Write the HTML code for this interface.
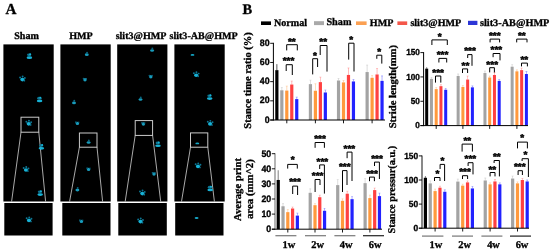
<!DOCTYPE html>
<html lang="en"><head><meta charset="utf-8"><title>Figure</title>
<style>
html,body{margin:0;padding:0;background:#fff;}
body{width:550px;height:250px;overflow:hidden;}
svg{display:block;}
text{text-rendering:geometricPrecision;}
.se{font-family:"Liberation Serif", "DejaVu Serif", serif;font-weight:bold;fill:#000;stroke:#000;stroke-width:0.3px;}
.sa{font-family:"Liberation Sans", "DejaVu Sans", sans-serif;font-weight:bold;fill:#000;}
</style></head><body>
<svg width="550" height="250" viewBox="0 0 550 250">
<defs><filter id="bl" x="-5%" y="-5%" width="110%" height="110%"><feGaussianBlur stdDeviation="0.55"/></filter></defs>
<rect x="0" y="0" width="550" height="250" fill="#fff"/>
<text class="se" x="5.40" y="13.60" font-size="15.2" text-anchor="start" >A</text>
<text class="se" x="26.50" y="39.10" font-size="10.1" text-anchor="middle" >Sham</text>
<text class="se" x="81.00" y="39.10" font-size="10.1" text-anchor="middle" >HMP</text>
<text class="se" x="141.10" y="39.00" font-size="10.1" text-anchor="middle" >slit3@HMP</text>
<text class="se" x="203.60" y="39.00" font-size="10.1" text-anchor="middle" >slit3-AB@HMP</text>
<rect x="3.40" y="44.40" width="50.30" height="157.10" fill="#000" />
<rect x="60.40" y="44.40" width="50.30" height="157.10" fill="#000" />
<rect x="117.20" y="44.40" width="50.20" height="157.10" fill="#000" />
<rect x="174.40" y="44.40" width="50.30" height="157.10" fill="#000" />
<rect x="4.30" y="203.00" width="48.30" height="32.50" fill="#000" />
<rect x="62.30" y="203.00" width="48.20" height="32.50" fill="#000" />
<rect x="118.30" y="203.00" width="48.50" height="32.50" fill="#000" />
<rect x="175.20" y="203.00" width="48.30" height="32.50" fill="#000" />
<rect x="21.0" y="117.2" width="17.80" height="15.00" fill="none" stroke="#d4d4d4" stroke-width="0.95"/>
<line x1="21.00" y1="132.20" x2="11.60" y2="201.50" stroke="#d4d4d4" stroke-width="0.8" />
<line x1="38.80" y1="132.20" x2="45.60" y2="201.50" stroke="#d4d4d4" stroke-width="0.8" />
<rect x="79.4" y="133.0" width="17.60" height="14.20" fill="none" stroke="#d4d4d4" stroke-width="0.95"/>
<line x1="79.40" y1="147.20" x2="69.60" y2="201.50" stroke="#d4d4d4" stroke-width="0.8" />
<line x1="97.00" y1="147.20" x2="102.60" y2="201.50" stroke="#d4d4d4" stroke-width="0.8" />
<rect x="135.2" y="120.6" width="17.40" height="14.80" fill="none" stroke="#d4d4d4" stroke-width="0.95"/>
<line x1="135.20" y1="135.40" x2="125.20" y2="201.50" stroke="#d4d4d4" stroke-width="0.8" />
<line x1="152.60" y1="135.40" x2="160.70" y2="201.50" stroke="#d4d4d4" stroke-width="0.8" />
<rect x="190.5" y="132.9" width="17.30" height="14.30" fill="none" stroke="#d4d4d4" stroke-width="0.95"/>
<line x1="190.50" y1="147.20" x2="181.50" y2="201.50" stroke="#d4d4d4" stroke-width="0.8" />
<line x1="207.80" y1="147.20" x2="214.40" y2="201.50" stroke="#d4d4d4" stroke-width="0.8" />
<g filter="url(#bl)">
<g transform="translate(29.4,56.3) scale(1.22)">
<ellipse cx="0" cy="1.1" rx="2.3" ry="1.1" fill="#17b2d6"/>
<ellipse cx="-0.2" cy="-1.2" rx="1.8" ry="1.1" fill="#0c7592"/>
<circle cx="0.6" cy="-1.6" r="0.8" fill="#17b2d6"/>
</g>
<g transform="translate(22.4,79.0) scale(1.22)">
<ellipse cx="0" cy="0.5" rx="1.7" ry="1.5" fill="#17b2d6"/>
<circle cx="-1.9" cy="-1.2" r="0.8" fill="#0c7592"/>
<circle cx="0.2" cy="-2.0" r="0.8" fill="#0c7592"/>
<circle cx="2.0" cy="-0.8" r="0.8" fill="#0c7592"/>
<circle cx="1.6" cy="1.4" r="0.7" fill="#0c7592"/>
</g>
<g transform="translate(39.6,99.6) scale(1.22)">
<ellipse cx="0" cy="1.1" rx="2.3" ry="1.1" fill="#17b2d6"/>
<ellipse cx="-0.2" cy="-1.2" rx="1.8" ry="1.1" fill="#0c7592"/>
<circle cx="0.6" cy="-1.6" r="0.8" fill="#17b2d6"/>
</g>
<g transform="translate(28.7,123.2) scale(1.22)">
<ellipse cx="0" cy="0.5" rx="1.7" ry="1.5" fill="#17b2d6"/>
<circle cx="-1.9" cy="-1.2" r="0.8" fill="#0c7592"/>
<circle cx="0.2" cy="-2.0" r="0.8" fill="#0c7592"/>
<circle cx="2.0" cy="-0.8" r="0.8" fill="#0c7592"/>
<circle cx="1.6" cy="1.4" r="0.7" fill="#0c7592"/>
</g>
<g transform="translate(41.4,147.0) scale(1.22)">
<ellipse cx="0" cy="1.1" rx="2.3" ry="1.1" fill="#17b2d6"/>
<ellipse cx="-0.2" cy="-1.2" rx="1.8" ry="1.1" fill="#0c7592"/>
<circle cx="0.6" cy="-1.6" r="0.8" fill="#17b2d6"/>
</g>
<g transform="translate(26.0,169.4) scale(1.22)">
<ellipse cx="0" cy="0.5" rx="1.7" ry="1.5" fill="#17b2d6"/>
<circle cx="-1.9" cy="-1.2" r="0.8" fill="#0c7592"/>
<circle cx="0.2" cy="-2.0" r="0.8" fill="#0c7592"/>
<circle cx="2.0" cy="-0.8" r="0.8" fill="#0c7592"/>
<circle cx="1.6" cy="1.4" r="0.7" fill="#0c7592"/>
</g>
<g transform="translate(40.2,193.2) scale(1.22)">
<ellipse cx="0" cy="1.1" rx="2.3" ry="1.1" fill="#17b2d6"/>
<ellipse cx="-0.2" cy="-1.2" rx="1.8" ry="1.1" fill="#0c7592"/>
<circle cx="0.6" cy="-1.6" r="0.8" fill="#17b2d6"/>
</g>
<g transform="translate(29.0,219.8) scale(1.22)">
<ellipse cx="0" cy="0.5" rx="1.7" ry="1.5" fill="#17b2d6"/>
<circle cx="-1.9" cy="-1.2" r="0.8" fill="#0c7592"/>
<circle cx="0.2" cy="-2.0" r="0.8" fill="#0c7592"/>
<circle cx="2.0" cy="-0.8" r="0.8" fill="#0c7592"/>
<circle cx="1.6" cy="1.4" r="0.7" fill="#0c7592"/>
</g>
<g transform="translate(86.8,54.2) scale(1.22)">
<ellipse cx="0" cy="0.4" rx="1.6" ry="1.1" fill="#199cbc"/>
<circle cx="0.2" cy="-1.3" r="0.8" fill="#0a627c"/>
</g>
<g transform="translate(85.0,79.8) scale(1.22)">
<circle cx="0" cy="0" r="1.4" fill="#199cbc"/>
<circle cx="-1.2" cy="-1.0" r="0.7" fill="#0a627c"/>
<circle cx="1.1" cy="-0.9" r="0.6" fill="#0a627c"/>
</g>
<g transform="translate(74.0,102.4) scale(1.22)">
<ellipse cx="0" cy="0.4" rx="1.6" ry="1.1" fill="#199cbc"/>
<circle cx="0.2" cy="-1.3" r="0.8" fill="#0a627c"/>
</g>
<g transform="translate(77.4,123.4) scale(1.22)">
<circle cx="0" cy="0" r="1.4" fill="#199cbc"/>
<circle cx="-1.2" cy="-1.0" r="0.7" fill="#0a627c"/>
<circle cx="1.1" cy="-0.9" r="0.6" fill="#0a627c"/>
</g>
<g transform="translate(88.6,142.0) scale(1.22)">
<ellipse cx="0" cy="0.4" rx="1.6" ry="1.1" fill="#199cbc"/>
<circle cx="0.2" cy="-1.3" r="0.8" fill="#0a627c"/>
</g>
<g transform="translate(88.6,169.4) scale(1.22)">
<circle cx="0" cy="0" r="1.4" fill="#199cbc"/>
<circle cx="-1.2" cy="-1.0" r="0.7" fill="#0a627c"/>
<circle cx="1.1" cy="-0.9" r="0.6" fill="#0a627c"/>
</g>
<g transform="translate(77.4,189.6) scale(1.22)">
<ellipse cx="0" cy="0.4" rx="1.6" ry="1.1" fill="#199cbc"/>
<circle cx="0.2" cy="-1.3" r="0.8" fill="#0a627c"/>
</g>
<g transform="translate(81.4,221.4) scale(1.22)">
<circle cx="0" cy="0" r="1.4" fill="#199cbc"/>
<circle cx="-1.2" cy="-1.0" r="0.7" fill="#0a627c"/>
<circle cx="1.1" cy="-0.9" r="0.6" fill="#0a627c"/>
</g>
<g transform="translate(152.1,50.0) scale(1.22)">
<ellipse cx="0" cy="0.4" rx="1.6" ry="1.1" fill="#199cbc"/>
<circle cx="0.2" cy="-1.3" r="0.8" fill="#0a627c"/>
</g>
<g transform="translate(150.8,76.7) scale(1.22)">
<circle cx="0" cy="0" r="1.4" fill="#199cbc"/>
<circle cx="-1.2" cy="-1.0" r="0.7" fill="#0a627c"/>
<circle cx="1.1" cy="-0.9" r="0.6" fill="#0a627c"/>
</g>
<g transform="translate(140.5,99.0) scale(1.22)">
<ellipse cx="0" cy="0.4" rx="1.6" ry="1.1" fill="#199cbc"/>
<circle cx="0.2" cy="-1.3" r="0.8" fill="#0a627c"/>
</g>
<g transform="translate(143.4,124.0) scale(1.22)">
<circle cx="0" cy="0" r="1.4" fill="#199cbc"/>
<circle cx="-1.2" cy="-1.0" r="0.7" fill="#0a627c"/>
<circle cx="1.1" cy="-0.9" r="0.6" fill="#0a627c"/>
</g>
<g transform="translate(158.0,144.4) scale(1.22)">
<ellipse cx="0" cy="1.1" rx="2.3" ry="1.1" fill="#17b2d6"/>
<ellipse cx="-0.2" cy="-1.2" rx="1.8" ry="1.1" fill="#0c7592"/>
<circle cx="0.6" cy="-1.6" r="0.8" fill="#17b2d6"/>
</g>
<g transform="translate(154.0,174.0) scale(1.22)">
<circle cx="0" cy="0" r="1.4" fill="#199cbc"/>
<circle cx="-1.2" cy="-1.0" r="0.7" fill="#0a627c"/>
<circle cx="1.1" cy="-0.9" r="0.6" fill="#0a627c"/>
</g>
<g transform="translate(142.3,193.0) scale(1.22)">
<ellipse cx="0" cy="0.5" rx="1.7" ry="1.5" fill="#17b2d6"/>
<circle cx="-1.9" cy="-1.2" r="0.8" fill="#0c7592"/>
<circle cx="0.2" cy="-2.0" r="0.8" fill="#0c7592"/>
<circle cx="2.0" cy="-0.8" r="0.8" fill="#0c7592"/>
<circle cx="1.6" cy="1.4" r="0.7" fill="#0c7592"/>
</g>
<g transform="translate(140.5,221.0) scale(1.22)">
<ellipse cx="0" cy="0.5" rx="1.7" ry="1.5" fill="#17b2d6"/>
<circle cx="-1.9" cy="-1.2" r="0.8" fill="#0c7592"/>
<circle cx="0.2" cy="-2.0" r="0.8" fill="#0c7592"/>
<circle cx="2.0" cy="-0.8" r="0.8" fill="#0c7592"/>
<circle cx="1.6" cy="1.4" r="0.7" fill="#0c7592"/>
</g>
<g transform="translate(192.5,54.9) scale(1.22)">
<ellipse cx="0" cy="0" rx="1.6" ry="0.75" fill="#16a8c8"/>
</g>
<g transform="translate(196.2,74.6) scale(1.22)">
<ellipse cx="0" cy="0.5" rx="1.7" ry="1.5" fill="#17b2d6"/>
<circle cx="-1.9" cy="-1.2" r="0.8" fill="#0c7592"/>
<circle cx="0.2" cy="-2.0" r="0.8" fill="#0c7592"/>
<circle cx="2.0" cy="-0.8" r="0.8" fill="#0c7592"/>
<circle cx="1.6" cy="1.4" r="0.7" fill="#0c7592"/>
</g>
<g transform="translate(209.7,97.2) scale(1.22)">
<ellipse cx="0" cy="1.1" rx="2.3" ry="1.1" fill="#17b2d6"/>
<ellipse cx="-0.2" cy="-1.2" rx="1.8" ry="1.1" fill="#0c7592"/>
<circle cx="0.6" cy="-1.6" r="0.8" fill="#17b2d6"/>
</g>
<g transform="translate(210.1,123.3) scale(1.22)">
<ellipse cx="0" cy="0.5" rx="1.7" ry="1.5" fill="#17b2d6"/>
<circle cx="-1.9" cy="-1.2" r="0.8" fill="#0c7592"/>
<circle cx="0.2" cy="-2.0" r="0.8" fill="#0c7592"/>
<circle cx="2.0" cy="-0.8" r="0.8" fill="#0c7592"/>
<circle cx="1.6" cy="1.4" r="0.7" fill="#0c7592"/>
</g>
<g transform="translate(197.3,143.4) scale(1.22)">
<ellipse cx="0" cy="0" rx="1.6" ry="0.75" fill="#16a8c8"/>
</g>
<g transform="translate(198.0,165.8) scale(1.22)">
<ellipse cx="0" cy="0.5" rx="1.7" ry="1.5" fill="#17b2d6"/>
<circle cx="-1.9" cy="-1.2" r="0.8" fill="#0c7592"/>
<circle cx="0.2" cy="-2.0" r="0.8" fill="#0c7592"/>
<circle cx="2.0" cy="-0.8" r="0.8" fill="#0c7592"/>
<circle cx="1.6" cy="1.4" r="0.7" fill="#0c7592"/>
</g>
<g transform="translate(210.2,188.6) scale(1.22)">
<ellipse cx="0" cy="1.1" rx="2.3" ry="1.1" fill="#17b2d6"/>
<ellipse cx="-0.2" cy="-1.2" rx="1.8" ry="1.1" fill="#0c7592"/>
<circle cx="0.6" cy="-1.6" r="0.8" fill="#17b2d6"/>
</g>
<g transform="translate(196.6,218.0) scale(1.22)">
<ellipse cx="0" cy="0" rx="1.6" ry="0.75" fill="#16a8c8"/>
</g>
</g>
<text class="se" x="242.40" y="13.60" font-size="14.5" text-anchor="start" >B</text>
<rect x="261.00" y="21.40" width="10.00" height="3.60" fill="#000" />
<text class="se" x="274.00" y="26.00" font-size="10.1" text-anchor="start" >Normal</text>
<rect x="314.00" y="21.20" width="10.00" height="3.90" fill="#a9a9a9" />
<text class="se" x="326.40" y="25.10" font-size="10.25" text-anchor="start" >Sham</text>
<rect x="356.00" y="21.40" width="10.60" height="3.60" fill="#fba052" />
<text class="se" x="369.80" y="26.00" font-size="10.1" text-anchor="start" >HMP</text>
<rect x="397.40" y="21.40" width="9.80" height="3.60" fill="#f4574a" />
<text class="se" x="410.40" y="26.00" font-size="10.1" text-anchor="start" >slit3@HMP</text>
<rect x="468.00" y="20.80" width="9.40" height="4.20" fill="#2c35d6" />
<text class="se" x="480.00" y="26.00" font-size="10.25" text-anchor="start" >slit3-AB@HMP</text>
<line x1="276.86" y1="64.15" x2="276.86" y2="70.15" stroke="#444" stroke-width="0.9" />
<rect x="275.26" y="70.15" width="3.20" height="49.85" fill="#000" />
<line x1="281.83" y1="87.28" x2="281.83" y2="90.28" stroke="#a3a3a3" stroke-width="0.6" opacity="0.6"/>
<line x1="280.83" y1="87.28" x2="282.83" y2="87.28" stroke="#a3a3a3" stroke-width="0.5" opacity="0.55"/>
<rect x="280.23" y="90.28" width="3.20" height="29.72" fill="#a3a3a3" />
<line x1="286.80" y1="86.07" x2="286.80" y2="90.57" stroke="#ff993d" stroke-width="0.6" opacity="0.6"/>
<line x1="285.80" y1="86.07" x2="287.80" y2="86.07" stroke="#ff993d" stroke-width="0.5" opacity="0.55"/>
<rect x="285.20" y="90.57" width="3.20" height="29.43" fill="#ff993d" />
<line x1="291.77" y1="81.03" x2="291.77" y2="84.53" stroke="#ff4141" stroke-width="0.6" opacity="0.6"/>
<line x1="290.77" y1="81.03" x2="292.77" y2="81.03" stroke="#ff4141" stroke-width="0.5" opacity="0.55"/>
<rect x="290.17" y="84.53" width="3.20" height="35.47" fill="#ff4141" />
<line x1="296.74" y1="97.10" x2="296.74" y2="99.10" stroke="#2222ff" stroke-width="0.6" opacity="0.6"/>
<line x1="295.74" y1="97.10" x2="297.74" y2="97.10" stroke="#2222ff" stroke-width="0.5" opacity="0.55"/>
<rect x="295.14" y="99.10" width="3.20" height="20.90" fill="#2222ff" />
<line x1="310.43" y1="80.14" x2="310.43" y2="84.14" stroke="#a3a3a3" stroke-width="0.6" opacity="0.6"/>
<line x1="309.43" y1="80.14" x2="311.43" y2="80.14" stroke="#a3a3a3" stroke-width="0.5" opacity="0.55"/>
<rect x="308.83" y="84.14" width="3.20" height="35.86" fill="#a3a3a3" />
<line x1="315.40" y1="83.76" x2="315.40" y2="90.76" stroke="#ff993d" stroke-width="0.6" opacity="0.6"/>
<line x1="314.40" y1="83.76" x2="316.40" y2="83.76" stroke="#ff993d" stroke-width="0.5" opacity="0.55"/>
<rect x="313.80" y="90.76" width="3.20" height="29.24" fill="#ff993d" />
<line x1="320.37" y1="77.13" x2="320.37" y2="82.13" stroke="#ff4141" stroke-width="0.6" opacity="0.6"/>
<line x1="319.37" y1="77.13" x2="321.37" y2="77.13" stroke="#ff4141" stroke-width="0.5" opacity="0.55"/>
<rect x="318.77" y="82.13" width="3.20" height="37.87" fill="#ff4141" />
<line x1="325.34" y1="89.98" x2="325.34" y2="92.48" stroke="#2222ff" stroke-width="0.6" opacity="0.6"/>
<line x1="324.34" y1="89.98" x2="326.34" y2="89.98" stroke="#2222ff" stroke-width="0.5" opacity="0.55"/>
<rect x="323.74" y="92.48" width="3.20" height="27.52" fill="#2222ff" />
<line x1="338.53" y1="78.50" x2="338.53" y2="80.50" stroke="#a3a3a3" stroke-width="0.6" opacity="0.6"/>
<line x1="337.53" y1="78.50" x2="339.53" y2="78.50" stroke="#a3a3a3" stroke-width="0.5" opacity="0.55"/>
<rect x="336.93" y="80.50" width="3.20" height="39.50" fill="#a3a3a3" />
<line x1="343.50" y1="80.42" x2="343.50" y2="82.42" stroke="#ff993d" stroke-width="0.6" opacity="0.6"/>
<line x1="342.50" y1="80.42" x2="344.50" y2="80.42" stroke="#ff993d" stroke-width="0.5" opacity="0.55"/>
<rect x="341.90" y="82.42" width="3.20" height="37.58" fill="#ff993d" />
<line x1="348.47" y1="67.94" x2="348.47" y2="74.94" stroke="#ff4141" stroke-width="0.6" opacity="0.6"/>
<line x1="347.47" y1="67.94" x2="349.47" y2="67.94" stroke="#ff4141" stroke-width="0.5" opacity="0.55"/>
<rect x="346.87" y="74.94" width="3.20" height="45.06" fill="#ff4141" />
<line x1="353.44" y1="79.46" x2="353.44" y2="81.46" stroke="#2222ff" stroke-width="0.6" opacity="0.6"/>
<line x1="352.44" y1="79.46" x2="354.44" y2="79.46" stroke="#2222ff" stroke-width="0.5" opacity="0.55"/>
<rect x="351.84" y="81.46" width="3.20" height="38.54" fill="#2222ff" />
<line x1="367.13" y1="65.06" x2="367.13" y2="72.06" stroke="#a3a3a3" stroke-width="0.6" opacity="0.6"/>
<line x1="366.13" y1="65.06" x2="368.13" y2="65.06" stroke="#a3a3a3" stroke-width="0.5" opacity="0.55"/>
<rect x="365.53" y="72.06" width="3.20" height="47.94" fill="#a3a3a3" />
<line x1="372.10" y1="75.31" x2="372.10" y2="77.81" stroke="#ff993d" stroke-width="0.6" opacity="0.6"/>
<line x1="371.10" y1="75.31" x2="373.10" y2="75.31" stroke="#ff993d" stroke-width="0.5" opacity="0.55"/>
<rect x="370.50" y="77.81" width="3.20" height="42.19" fill="#ff993d" />
<line x1="377.07" y1="68.46" x2="377.07" y2="74.46" stroke="#ff4141" stroke-width="0.6" opacity="0.6"/>
<line x1="376.07" y1="68.46" x2="378.07" y2="68.46" stroke="#ff4141" stroke-width="0.5" opacity="0.55"/>
<rect x="375.47" y="74.46" width="3.20" height="45.54" fill="#ff4141" />
<line x1="382.04" y1="75.88" x2="382.04" y2="80.88" stroke="#2222ff" stroke-width="0.6" opacity="0.6"/>
<line x1="381.04" y1="75.88" x2="383.04" y2="75.88" stroke="#2222ff" stroke-width="0.5" opacity="0.55"/>
<rect x="380.44" y="80.88" width="3.20" height="39.12" fill="#2222ff" />
<line x1="273.40" y1="42.80" x2="273.40" y2="120.50" stroke="#000" stroke-width="1.0" />
<line x1="270.20" y1="120.00" x2="385.00" y2="120.00" stroke="#000" stroke-width="1.0" />
<line x1="270.20" y1="120.00" x2="273.40" y2="120.00" stroke="#000" stroke-width="0.9" />
<text class="sa" font-size="8.8" text-anchor="end" stroke="#000" stroke-width="0.32" transform="translate(269.60,119.25) scale(1,1.06)" y="3.15">0</text>
<line x1="270.20" y1="100.83" x2="273.40" y2="100.83" stroke="#000" stroke-width="0.9" />
<text class="sa" font-size="8.8" text-anchor="end" stroke="#000" stroke-width="0.32" transform="translate(269.60,100.08) scale(1,1.06)" y="3.15">20</text>
<line x1="270.20" y1="81.65" x2="273.40" y2="81.65" stroke="#000" stroke-width="0.9" />
<text class="sa" font-size="8.8" text-anchor="end" stroke="#000" stroke-width="0.32" transform="translate(269.60,80.90) scale(1,1.06)" y="3.15">40</text>
<line x1="270.20" y1="62.48" x2="273.40" y2="62.48" stroke="#000" stroke-width="0.9" />
<text class="sa" font-size="8.8" text-anchor="end" stroke="#000" stroke-width="0.32" transform="translate(269.60,61.73) scale(1,1.06)" y="3.15">60</text>
<line x1="270.20" y1="43.30" x2="273.40" y2="43.30" stroke="#000" stroke-width="0.9" />
<text class="sa" font-size="8.8" text-anchor="end" stroke="#000" stroke-width="0.32" transform="translate(269.60,42.55) scale(1,1.06)" y="3.15">80</text>
<line x1="286.80" y1="120.00" x2="286.80" y2="123.30" stroke="#000" stroke-width="0.9" />
<line x1="315.40" y1="120.00" x2="315.40" y2="123.30" stroke="#000" stroke-width="0.9" />
<line x1="343.50" y1="120.00" x2="343.50" y2="123.30" stroke="#000" stroke-width="0.9" />
<line x1="372.10" y1="120.00" x2="372.10" y2="123.30" stroke="#000" stroke-width="0.9" />
<text class="se" font-size="10.5" text-anchor="middle" transform="translate(250.60,80.40) rotate(-90) scale(1.0,1)">Stance time ratio (%)</text>
<polyline points="286.70,50.40 286.70,44.70 297.30,44.70 297.30,50.40" fill="none" stroke="#000" stroke-width="1.0"/>
<text class="sa" x="291.80" y="44.60" font-size="10" text-anchor="middle" stroke="#000" stroke-width="0.5" stroke-linejoin="round">**</text>
<polyline points="286.20,71.00 286.20,64.70 292.30,64.70 292.30,75.00" fill="none" stroke="#000" stroke-width="1.0"/>
<text class="sa" x="288.50" y="64.10" font-size="10" text-anchor="middle" stroke="#000" stroke-width="0.5" stroke-linejoin="round">***</text>
<polyline points="312.70,74.40 312.70,58.70 317.60,58.70 317.60,67.00" fill="none" stroke="#000" stroke-width="1.0"/>
<text class="sa" x="315.00" y="58.60" font-size="10" text-anchor="middle" stroke="#000" stroke-width="0.5" stroke-linejoin="round">*</text>
<polyline points="320.20,55.00 320.20,45.50 327.00,45.50 327.00,71.60" fill="none" stroke="#000" stroke-width="1.0"/>
<text class="sa" x="323.20" y="45.40" font-size="10" text-anchor="middle" stroke="#000" stroke-width="0.5" stroke-linejoin="round">**</text>
<polyline points="348.70,59.60 348.70,43.20 354.00,43.20 354.00,71.50" fill="none" stroke="#000" stroke-width="1.0"/>
<text class="sa" x="351.20" y="43.10" font-size="10" text-anchor="middle" stroke="#000" stroke-width="0.5" stroke-linejoin="round">*</text>
<polyline points="376.80,58.80 376.80,55.20 381.80,55.20 381.80,63.60" fill="none" stroke="#000" stroke-width="1.0"/>
<text class="sa" x="379.20" y="55.10" font-size="10" text-anchor="middle" stroke="#000" stroke-width="0.5" stroke-linejoin="round">*</text>
<line x1="426.70" y1="67.36" x2="426.70" y2="68.66" stroke="#444" stroke-width="0.9" />
<rect x="425.20" y="68.66" width="3.00" height="56.94" fill="#000" />
<line x1="431.45" y1="77.38" x2="431.45" y2="78.88" stroke="#a3a3a3" stroke-width="0.6" opacity="0.6"/>
<line x1="430.45" y1="77.38" x2="432.45" y2="77.38" stroke="#a3a3a3" stroke-width="0.5" opacity="0.55"/>
<rect x="429.95" y="78.88" width="3.00" height="46.72" fill="#a3a3a3" />
<line x1="436.20" y1="87.60" x2="436.20" y2="89.10" stroke="#ff993d" stroke-width="0.6" opacity="0.6"/>
<line x1="435.20" y1="87.60" x2="437.20" y2="87.60" stroke="#ff993d" stroke-width="0.5" opacity="0.55"/>
<rect x="434.70" y="89.10" width="3.00" height="36.50" fill="#ff993d" />
<line x1="440.95" y1="84.68" x2="440.95" y2="86.18" stroke="#ff4141" stroke-width="0.6" opacity="0.6"/>
<line x1="439.95" y1="84.68" x2="441.95" y2="84.68" stroke="#ff4141" stroke-width="0.5" opacity="0.55"/>
<rect x="439.45" y="86.18" width="3.00" height="39.42" fill="#ff4141" />
<line x1="445.70" y1="88.28" x2="445.70" y2="89.78" stroke="#2222ff" stroke-width="0.6" opacity="0.6"/>
<line x1="444.70" y1="88.28" x2="446.70" y2="88.28" stroke="#2222ff" stroke-width="0.5" opacity="0.55"/>
<rect x="444.20" y="89.78" width="3.00" height="35.82" fill="#2222ff" />
<line x1="458.15" y1="73.96" x2="458.15" y2="75.96" stroke="#a3a3a3" stroke-width="0.6" opacity="0.6"/>
<line x1="457.15" y1="73.96" x2="459.15" y2="73.96" stroke="#a3a3a3" stroke-width="0.5" opacity="0.55"/>
<rect x="456.65" y="75.96" width="3.00" height="49.64" fill="#a3a3a3" />
<line x1="462.90" y1="85.46" x2="462.90" y2="86.96" stroke="#ff993d" stroke-width="0.6" opacity="0.6"/>
<line x1="461.90" y1="85.46" x2="463.90" y2="85.46" stroke="#ff993d" stroke-width="0.5" opacity="0.55"/>
<rect x="461.40" y="86.96" width="3.00" height="38.64" fill="#ff993d" />
<line x1="467.65" y1="76.06" x2="467.65" y2="79.56" stroke="#ff4141" stroke-width="0.6" opacity="0.6"/>
<line x1="466.65" y1="76.06" x2="468.65" y2="76.06" stroke="#ff4141" stroke-width="0.5" opacity="0.55"/>
<rect x="466.15" y="79.56" width="3.00" height="46.04" fill="#ff4141" />
<line x1="472.40" y1="85.85" x2="472.40" y2="87.35" stroke="#2222ff" stroke-width="0.6" opacity="0.6"/>
<line x1="471.40" y1="85.85" x2="473.40" y2="85.85" stroke="#2222ff" stroke-width="0.5" opacity="0.55"/>
<rect x="470.90" y="87.35" width="3.00" height="38.25" fill="#2222ff" />
<line x1="484.95" y1="71.04" x2="484.95" y2="73.04" stroke="#a3a3a3" stroke-width="0.6" opacity="0.6"/>
<line x1="483.95" y1="71.04" x2="485.95" y2="71.04" stroke="#a3a3a3" stroke-width="0.5" opacity="0.55"/>
<rect x="483.45" y="73.04" width="3.00" height="52.56" fill="#a3a3a3" />
<line x1="489.70" y1="76.02" x2="489.70" y2="77.52" stroke="#ff993d" stroke-width="0.6" opacity="0.6"/>
<line x1="488.70" y1="76.02" x2="490.70" y2="76.02" stroke="#ff993d" stroke-width="0.5" opacity="0.55"/>
<rect x="488.20" y="77.52" width="3.00" height="48.08" fill="#ff993d" />
<line x1="494.45" y1="72.49" x2="494.45" y2="74.99" stroke="#ff4141" stroke-width="0.6" opacity="0.6"/>
<line x1="493.45" y1="72.49" x2="495.45" y2="72.49" stroke="#ff4141" stroke-width="0.5" opacity="0.55"/>
<rect x="492.95" y="74.99" width="3.00" height="50.61" fill="#ff4141" />
<line x1="499.20" y1="79.42" x2="499.20" y2="80.92" stroke="#2222ff" stroke-width="0.6" opacity="0.6"/>
<line x1="498.20" y1="79.42" x2="500.20" y2="79.42" stroke="#2222ff" stroke-width="0.5" opacity="0.55"/>
<rect x="497.70" y="80.92" width="3.00" height="44.68" fill="#2222ff" />
<line x1="512.15" y1="64.71" x2="512.15" y2="66.71" stroke="#a3a3a3" stroke-width="0.6" opacity="0.6"/>
<line x1="511.15" y1="64.71" x2="513.15" y2="64.71" stroke="#a3a3a3" stroke-width="0.5" opacity="0.55"/>
<rect x="510.65" y="66.71" width="3.00" height="58.89" fill="#a3a3a3" />
<line x1="516.90" y1="69.84" x2="516.90" y2="71.34" stroke="#ff993d" stroke-width="0.6" opacity="0.6"/>
<line x1="515.90" y1="69.84" x2="517.90" y2="69.84" stroke="#ff993d" stroke-width="0.5" opacity="0.55"/>
<rect x="515.40" y="71.34" width="3.00" height="54.26" fill="#ff993d" />
<line x1="521.65" y1="68.12" x2="521.65" y2="70.12" stroke="#ff4141" stroke-width="0.6" opacity="0.6"/>
<line x1="520.65" y1="68.12" x2="522.65" y2="68.12" stroke="#ff4141" stroke-width="0.5" opacity="0.55"/>
<rect x="520.15" y="70.12" width="3.00" height="55.48" fill="#ff4141" />
<line x1="526.40" y1="71.51" x2="526.40" y2="74.01" stroke="#2222ff" stroke-width="0.6" opacity="0.6"/>
<line x1="525.40" y1="71.51" x2="527.40" y2="71.51" stroke="#2222ff" stroke-width="0.5" opacity="0.55"/>
<rect x="524.90" y="74.01" width="3.00" height="51.59" fill="#2222ff" />
<line x1="423.60" y1="52.10" x2="423.60" y2="126.10" stroke="#000" stroke-width="1.0" />
<line x1="420.40" y1="125.60" x2="528.00" y2="125.60" stroke="#000" stroke-width="1.0" />
<line x1="420.40" y1="125.60" x2="423.60" y2="125.60" stroke="#000" stroke-width="0.9" />
<text class="sa" font-size="8.2" text-anchor="end" stroke="#000" stroke-width="0.32" transform="translate(419.80,125.15) scale(1,1.06)" y="2.94">0</text>
<line x1="420.40" y1="101.27" x2="423.60" y2="101.27" stroke="#000" stroke-width="0.9" />
<text class="sa" font-size="8.2" text-anchor="end" stroke="#000" stroke-width="0.32" transform="translate(419.80,100.82) scale(1,1.06)" y="2.94">50</text>
<line x1="420.40" y1="76.93" x2="423.60" y2="76.93" stroke="#000" stroke-width="0.9" />
<text class="sa" font-size="8.2" text-anchor="end" stroke="#000" stroke-width="0.32" transform="translate(419.80,76.48) scale(1,1.06)" y="2.94">100</text>
<line x1="420.40" y1="52.60" x2="423.60" y2="52.60" stroke="#000" stroke-width="0.9" />
<text class="sa" font-size="8.2" text-anchor="end" stroke="#000" stroke-width="0.32" transform="translate(419.80,52.15) scale(1,1.06)" y="2.94">150</text>
<line x1="436.20" y1="125.60" x2="436.20" y2="128.90" stroke="#000" stroke-width="0.9" />
<line x1="462.90" y1="125.60" x2="462.90" y2="128.90" stroke="#000" stroke-width="0.9" />
<line x1="489.70" y1="125.60" x2="489.70" y2="128.90" stroke="#000" stroke-width="0.9" />
<line x1="516.90" y1="125.60" x2="516.90" y2="128.90" stroke="#000" stroke-width="0.9" />
<text class="se" font-size="10.2" text-anchor="middle" transform="translate(395.50,86.70) rotate(-90) scale(1.04,1)">Stride length(mm)</text>
<polyline points="431.90,45.00 431.90,39.90 447.30,39.90 447.30,45.00" fill="none" stroke="#000" stroke-width="1.0"/>
<text class="sa" x="439.60" y="39.70" font-size="10" text-anchor="middle" stroke="#000" stroke-width="0.5" stroke-linejoin="round">*</text>
<polyline points="438.90,62.50 438.90,58.40 446.70,58.40 446.70,62.50" fill="none" stroke="#000" stroke-width="1.0"/>
<text class="sa" x="442.50" y="58.20" font-size="10" text-anchor="middle" stroke="#000" stroke-width="0.5" stroke-linejoin="round">***</text>
<polyline points="435.50,82.60 435.50,76.00 440.80,76.00 440.80,82.60" fill="none" stroke="#000" stroke-width="1.0"/>
<text class="sa" x="438.10" y="75.60" font-size="10" text-anchor="middle" stroke="#000" stroke-width="0.5" stroke-linejoin="round">***</text>
<polyline points="467.70,58.00 467.70,54.60 472.00,54.60 472.00,65.80" fill="none" stroke="#000" stroke-width="1.0"/>
<text class="sa" x="470.00" y="53.80" font-size="10" text-anchor="middle" stroke="#000" stroke-width="0.5" stroke-linejoin="round">***</text>
<polyline points="462.50,73.00 462.50,68.90 467.60,68.90 467.60,73.00" fill="none" stroke="#000" stroke-width="1.0"/>
<text class="sa" x="465.50" y="68.50" font-size="10" text-anchor="middle" stroke="#000" stroke-width="0.5" stroke-linejoin="round">**</text>
<polyline points="490.10,42.40 490.10,39.10 499.60,39.10 499.60,42.40" fill="none" stroke="#000" stroke-width="1.0"/>
<text class="sa" x="494.80" y="39.20" font-size="10" text-anchor="middle" stroke="#000" stroke-width="0.5" stroke-linejoin="round">***</text>
<polyline points="493.10,57.20 493.10,53.50 500.00,53.50 500.00,60.40" fill="none" stroke="#000" stroke-width="1.0"/>
<text class="sa" x="496.40" y="53.30" font-size="10" text-anchor="middle" stroke="#000" stroke-width="0.5" stroke-linejoin="round">***</text>
<polyline points="489.70,72.40 489.70,67.70 494.40,67.70 494.40,72.40" fill="none" stroke="#000" stroke-width="1.0"/>
<text class="sa" x="492.20" y="67.80" font-size="10" text-anchor="middle" stroke="#000" stroke-width="0.5" stroke-linejoin="round">***</text>
<polyline points="516.70,42.40 516.70,39.10 527.00,39.10 527.00,42.40" fill="none" stroke="#000" stroke-width="1.0"/>
<text class="sa" x="521.80" y="39.20" font-size="10" text-anchor="middle" stroke="#000" stroke-width="0.5" stroke-linejoin="round">**</text>
<polyline points="521.50,66.40 521.50,63.10 527.40,63.10 527.40,66.40" fill="none" stroke="#000" stroke-width="1.0"/>
<text class="sa" x="524.30" y="62.80" font-size="10" text-anchor="middle" stroke="#000" stroke-width="0.5" stroke-linejoin="round">**</text>
<line x1="278.24" y1="170.17" x2="278.24" y2="179.97" stroke="#9c9c9c" stroke-width="1.3" />
<rect x="276.64" y="179.97" width="3.20" height="49.23" fill="#000" />
<line x1="283.02" y1="203.25" x2="283.02" y2="206.25" stroke="#a3a3a3" stroke-width="0.6" opacity="0.6"/>
<line x1="282.02" y1="203.25" x2="284.02" y2="203.25" stroke="#a3a3a3" stroke-width="0.5" opacity="0.55"/>
<rect x="281.42" y="206.25" width="3.20" height="22.95" fill="#a3a3a3" />
<line x1="287.80" y1="209.64" x2="287.80" y2="212.14" stroke="#ff993d" stroke-width="0.6" opacity="0.6"/>
<line x1="286.80" y1="209.64" x2="288.80" y2="209.64" stroke="#ff993d" stroke-width="0.5" opacity="0.55"/>
<rect x="286.20" y="212.14" width="3.20" height="17.06" fill="#ff993d" />
<line x1="292.58" y1="207.01" x2="292.58" y2="208.51" stroke="#ff4141" stroke-width="0.6" opacity="0.6"/>
<line x1="291.58" y1="207.01" x2="293.58" y2="207.01" stroke="#ff4141" stroke-width="0.5" opacity="0.55"/>
<rect x="290.98" y="208.51" width="3.20" height="20.69" fill="#ff4141" />
<line x1="297.36" y1="213.11" x2="297.36" y2="215.61" stroke="#2222ff" stroke-width="0.6" opacity="0.6"/>
<line x1="296.36" y1="213.11" x2="298.36" y2="213.11" stroke="#2222ff" stroke-width="0.5" opacity="0.55"/>
<rect x="295.76" y="215.61" width="3.20" height="13.59" fill="#2222ff" />
<line x1="310.22" y1="188.81" x2="310.22" y2="192.81" stroke="#a3a3a3" stroke-width="0.6" opacity="0.6"/>
<line x1="309.22" y1="188.81" x2="311.22" y2="188.81" stroke="#a3a3a3" stroke-width="0.5" opacity="0.55"/>
<rect x="308.62" y="192.81" width="3.20" height="36.39" fill="#a3a3a3" />
<line x1="315.00" y1="203.69" x2="315.00" y2="205.19" stroke="#ff993d" stroke-width="0.6" opacity="0.6"/>
<line x1="314.00" y1="203.69" x2="316.00" y2="203.69" stroke="#ff993d" stroke-width="0.5" opacity="0.55"/>
<rect x="313.40" y="205.19" width="3.20" height="24.01" fill="#ff993d" />
<line x1="319.78" y1="195.19" x2="319.78" y2="197.19" stroke="#ff4141" stroke-width="0.6" opacity="0.6"/>
<line x1="318.78" y1="195.19" x2="320.78" y2="195.19" stroke="#ff4141" stroke-width="0.5" opacity="0.55"/>
<rect x="318.18" y="197.19" width="3.20" height="32.01" fill="#ff4141" />
<line x1="324.56" y1="208.28" x2="324.56" y2="210.78" stroke="#2222ff" stroke-width="0.6" opacity="0.6"/>
<line x1="323.56" y1="208.28" x2="325.56" y2="208.28" stroke="#2222ff" stroke-width="0.5" opacity="0.55"/>
<rect x="322.96" y="210.78" width="3.20" height="18.42" fill="#2222ff" />
<line x1="337.72" y1="179.61" x2="337.72" y2="185.11" stroke="#a3a3a3" stroke-width="0.6" opacity="0.6"/>
<line x1="336.72" y1="179.61" x2="338.72" y2="179.61" stroke="#a3a3a3" stroke-width="0.5" opacity="0.55"/>
<rect x="336.12" y="185.11" width="3.20" height="44.09" fill="#a3a3a3" />
<line x1="342.50" y1="198.81" x2="342.50" y2="200.81" stroke="#ff993d" stroke-width="0.6" opacity="0.6"/>
<line x1="341.50" y1="198.81" x2="343.50" y2="198.81" stroke="#ff993d" stroke-width="0.5" opacity="0.55"/>
<rect x="340.90" y="200.81" width="3.20" height="28.39" fill="#ff993d" />
<line x1="347.28" y1="191.21" x2="347.28" y2="193.71" stroke="#ff4141" stroke-width="0.6" opacity="0.6"/>
<line x1="346.28" y1="191.21" x2="348.28" y2="191.21" stroke="#ff4141" stroke-width="0.5" opacity="0.55"/>
<rect x="345.68" y="193.71" width="3.20" height="35.49" fill="#ff4141" />
<line x1="352.06" y1="196.65" x2="352.06" y2="199.15" stroke="#2222ff" stroke-width="0.6" opacity="0.6"/>
<line x1="351.06" y1="196.65" x2="353.06" y2="196.65" stroke="#2222ff" stroke-width="0.5" opacity="0.55"/>
<rect x="350.46" y="199.15" width="3.20" height="30.05" fill="#2222ff" />
<line x1="365.12" y1="178.64" x2="365.12" y2="183.14" stroke="#a3a3a3" stroke-width="0.6" opacity="0.6"/>
<line x1="364.12" y1="178.64" x2="366.12" y2="178.64" stroke="#a3a3a3" stroke-width="0.5" opacity="0.55"/>
<rect x="363.52" y="183.14" width="3.20" height="46.06" fill="#a3a3a3" />
<line x1="369.90" y1="195.09" x2="369.90" y2="198.09" stroke="#ff993d" stroke-width="0.6" opacity="0.6"/>
<line x1="368.90" y1="195.09" x2="370.90" y2="195.09" stroke="#ff993d" stroke-width="0.5" opacity="0.55"/>
<rect x="368.30" y="198.09" width="3.20" height="31.11" fill="#ff993d" />
<line x1="374.68" y1="188.09" x2="374.68" y2="190.09" stroke="#ff4141" stroke-width="0.6" opacity="0.6"/>
<line x1="373.68" y1="188.09" x2="375.68" y2="188.09" stroke="#ff4141" stroke-width="0.5" opacity="0.55"/>
<rect x="373.08" y="190.09" width="3.20" height="39.11" fill="#ff4141" />
<line x1="379.46" y1="193.13" x2="379.46" y2="196.13" stroke="#2222ff" stroke-width="0.6" opacity="0.6"/>
<line x1="378.46" y1="193.13" x2="380.46" y2="193.13" stroke="#2222ff" stroke-width="0.5" opacity="0.55"/>
<rect x="377.86" y="196.13" width="3.20" height="33.07" fill="#2222ff" />
<line x1="275.00" y1="153.20" x2="275.00" y2="229.70" stroke="#777" stroke-width="1.1" />
<line x1="271.80" y1="229.20" x2="382.00" y2="229.20" stroke="#000" stroke-width="1.0" />
<line x1="271.80" y1="229.20" x2="275.00" y2="229.20" stroke="#000" stroke-width="0.9" />
<text class="sa" font-size="8.8" text-anchor="end" stroke="#000" stroke-width="0.32" transform="translate(271.20,228.75) scale(1,1.06)" y="3.15">0</text>
<line x1="271.80" y1="214.10" x2="275.00" y2="214.10" stroke="#000" stroke-width="0.9" />
<text class="sa" font-size="8.8" text-anchor="end" stroke="#000" stroke-width="0.32" transform="translate(271.20,213.65) scale(1,1.06)" y="3.15">10</text>
<line x1="271.80" y1="199.00" x2="275.00" y2="199.00" stroke="#000" stroke-width="0.9" />
<text class="sa" font-size="8.8" text-anchor="end" stroke="#000" stroke-width="0.32" transform="translate(271.20,198.55) scale(1,1.06)" y="3.15">20</text>
<line x1="271.80" y1="183.90" x2="275.00" y2="183.90" stroke="#000" stroke-width="0.9" />
<text class="sa" font-size="8.8" text-anchor="end" stroke="#000" stroke-width="0.32" transform="translate(271.20,183.45) scale(1,1.06)" y="3.15">30</text>
<line x1="271.80" y1="168.80" x2="275.00" y2="168.80" stroke="#000" stroke-width="0.9" />
<text class="sa" font-size="8.8" text-anchor="end" stroke="#000" stroke-width="0.32" transform="translate(271.20,168.35) scale(1,1.06)" y="3.15">40</text>
<line x1="271.80" y1="153.70" x2="275.00" y2="153.70" stroke="#000" stroke-width="0.9" />
<text class="sa" font-size="8.8" text-anchor="end" stroke="#000" stroke-width="0.32" transform="translate(271.20,153.25) scale(1,1.06)" y="3.15">50</text>
<line x1="287.80" y1="229.20" x2="287.80" y2="232.50" stroke="#000" stroke-width="0.9" />
<line x1="315.00" y1="229.20" x2="315.00" y2="232.50" stroke="#000" stroke-width="0.9" />
<line x1="342.50" y1="229.20" x2="342.50" y2="232.50" stroke="#000" stroke-width="0.9" />
<line x1="369.90" y1="229.20" x2="369.90" y2="232.50" stroke="#000" stroke-width="0.9" />
<text class="se" font-size="10.5" text-anchor="middle" transform="translate(240.90,189.50) rotate(-90) scale(1.016,1)">Average print</text>
<text class="se" font-size="10.6" text-anchor="middle" transform="translate(253.40,189.10) rotate(-90) scale(1.022,1)">area (mm^2)</text>
<polyline points="287.70,168.60 287.70,164.40 297.30,164.40 297.30,168.60" fill="none" stroke="#000" stroke-width="1.0"/>
<text class="sa" x="292.80" y="163.30" font-size="10" text-anchor="middle" stroke="#000" stroke-width="0.5" stroke-linejoin="round">*</text>
<polyline points="292.70,194.00 292.70,186.10 297.60,186.10 297.60,195.00" fill="none" stroke="#000" stroke-width="1.0"/>
<text class="sa" x="295.00" y="185.30" font-size="10" text-anchor="middle" stroke="#000" stroke-width="0.5" stroke-linejoin="round">***</text>
<polyline points="315.10,147.80 315.10,142.50 324.40,142.50 324.40,147.80" fill="none" stroke="#000" stroke-width="1.0"/>
<text class="sa" x="320.00" y="141.70" font-size="10" text-anchor="middle" stroke="#000" stroke-width="0.5" stroke-linejoin="round">***</text>
<polyline points="319.70,169.00 319.70,164.90 324.40,164.90 324.40,193.60" fill="none" stroke="#000" stroke-width="1.0"/>
<text class="sa" x="322.40" y="164.50" font-size="10" text-anchor="middle" stroke="#000" stroke-width="0.5" stroke-linejoin="round">***</text>
<polyline points="315.10,192.00 315.10,179.50 320.00,179.50 320.00,185.00" fill="none" stroke="#000" stroke-width="1.0"/>
<text class="sa" x="317.60" y="178.70" font-size="10" text-anchor="middle" stroke="#000" stroke-width="0.5" stroke-linejoin="round">***</text>
<polyline points="347.10,158.20 347.10,152.10 352.00,152.10 352.00,181.00" fill="none" stroke="#000" stroke-width="1.0"/>
<text class="sa" x="349.40" y="151.70" font-size="10" text-anchor="middle" stroke="#000" stroke-width="0.5" stroke-linejoin="round">***</text>
<polyline points="342.50,192.00 342.50,170.60 347.00,170.60 347.00,185.00" fill="none" stroke="#000" stroke-width="1.0"/>
<text class="sa" x="344.80" y="170.10" font-size="10" text-anchor="middle" stroke="#000" stroke-width="0.5" stroke-linejoin="round">***</text>
<polyline points="374.50,166.00 374.50,162.10 379.40,162.10 379.40,179.00" fill="none" stroke="#000" stroke-width="1.0"/>
<text class="sa" x="377.00" y="161.70" font-size="10" text-anchor="middle" stroke="#000" stroke-width="0.5" stroke-linejoin="round">***</text>
<polyline points="369.50,181.20 369.50,177.10 374.40,177.10 374.40,181.20" fill="none" stroke="#000" stroke-width="1.0"/>
<text class="sa" x="372.00" y="176.60" font-size="10" text-anchor="middle" stroke="#000" stroke-width="0.5" stroke-linejoin="round">***</text>
<line x1="275.40" y1="235.70" x2="296.40" y2="235.70" stroke="#7c7c7c" stroke-width="1.25" />
<line x1="305.00" y1="235.70" x2="326.00" y2="235.70" stroke="#7c7c7c" stroke-width="1.25" />
<line x1="334.40" y1="235.70" x2="355.40" y2="235.70" stroke="#7c7c7c" stroke-width="1.25" />
<line x1="363.00" y1="235.70" x2="384.00" y2="235.70" stroke="#2a2a2a" stroke-width="1.25" />
<text class="se" x="288.80" y="247.60" font-size="10.4" text-anchor="middle" >1w</text>
<text class="se" x="317.70" y="247.60" font-size="10.4" text-anchor="middle" >2w</text>
<text class="se" x="346.20" y="247.60" font-size="10.4" text-anchor="middle" >4w</text>
<text class="se" x="375.20" y="247.60" font-size="10.4" text-anchor="middle" >6w</text>
<line x1="425.40" y1="176.28" x2="425.40" y2="177.78" stroke="#444" stroke-width="0.9" />
<rect x="423.80" y="177.78" width="3.20" height="50.42" fill="#000" />
<line x1="430.25" y1="180.87" x2="430.25" y2="183.37" stroke="#a3a3a3" stroke-width="0.6" opacity="0.6"/>
<line x1="429.25" y1="180.87" x2="431.25" y2="180.87" stroke="#a3a3a3" stroke-width="0.5" opacity="0.55"/>
<rect x="428.65" y="183.37" width="3.20" height="44.83" fill="#a3a3a3" />
<line x1="435.10" y1="189.09" x2="435.10" y2="191.09" stroke="#ff993d" stroke-width="0.6" opacity="0.6"/>
<line x1="434.10" y1="189.09" x2="436.10" y2="189.09" stroke="#ff993d" stroke-width="0.5" opacity="0.55"/>
<rect x="433.50" y="191.09" width="3.20" height="37.11" fill="#ff993d" />
<line x1="439.95" y1="186.21" x2="439.95" y2="187.71" stroke="#ff4141" stroke-width="0.6" opacity="0.6"/>
<line x1="438.95" y1="186.21" x2="440.95" y2="186.21" stroke="#ff4141" stroke-width="0.5" opacity="0.55"/>
<rect x="438.35" y="187.71" width="3.20" height="40.49" fill="#ff4141" />
<line x1="444.80" y1="189.76" x2="444.80" y2="191.76" stroke="#2222ff" stroke-width="0.6" opacity="0.6"/>
<line x1="443.80" y1="189.76" x2="445.80" y2="189.76" stroke="#2222ff" stroke-width="0.5" opacity="0.55"/>
<rect x="443.20" y="191.76" width="3.20" height="36.44" fill="#2222ff" />
<line x1="457.85" y1="179.09" x2="457.85" y2="181.59" stroke="#a3a3a3" stroke-width="0.6" opacity="0.6"/>
<line x1="456.85" y1="179.09" x2="458.85" y2="179.09" stroke="#a3a3a3" stroke-width="0.5" opacity="0.55"/>
<rect x="456.25" y="181.59" width="3.20" height="46.61" fill="#a3a3a3" />
<line x1="462.70" y1="184.14" x2="462.70" y2="185.64" stroke="#ff993d" stroke-width="0.6" opacity="0.6"/>
<line x1="461.70" y1="184.14" x2="463.70" y2="184.14" stroke="#ff993d" stroke-width="0.5" opacity="0.55"/>
<rect x="461.10" y="185.64" width="3.20" height="42.56" fill="#ff993d" />
<line x1="467.55" y1="180.91" x2="467.55" y2="182.41" stroke="#ff4141" stroke-width="0.6" opacity="0.6"/>
<line x1="466.55" y1="180.91" x2="468.55" y2="180.91" stroke="#ff4141" stroke-width="0.5" opacity="0.55"/>
<rect x="465.95" y="182.41" width="3.20" height="45.79" fill="#ff4141" />
<line x1="472.40" y1="186.44" x2="472.40" y2="188.44" stroke="#2222ff" stroke-width="0.6" opacity="0.6"/>
<line x1="471.40" y1="186.44" x2="473.40" y2="186.44" stroke="#2222ff" stroke-width="0.5" opacity="0.55"/>
<rect x="470.80" y="188.44" width="3.20" height="39.76" fill="#2222ff" />
<line x1="485.25" y1="177.98" x2="485.25" y2="180.48" stroke="#a3a3a3" stroke-width="0.6" opacity="0.6"/>
<line x1="484.25" y1="177.98" x2="486.25" y2="177.98" stroke="#a3a3a3" stroke-width="0.5" opacity="0.55"/>
<rect x="483.65" y="180.48" width="3.20" height="47.72" fill="#a3a3a3" />
<line x1="490.10" y1="182.84" x2="490.10" y2="184.34" stroke="#ff993d" stroke-width="0.6" opacity="0.6"/>
<line x1="489.10" y1="182.84" x2="491.10" y2="182.84" stroke="#ff993d" stroke-width="0.5" opacity="0.55"/>
<rect x="488.50" y="184.34" width="3.20" height="43.86" fill="#ff993d" />
<line x1="494.95" y1="179.45" x2="494.95" y2="181.45" stroke="#ff4141" stroke-width="0.6" opacity="0.6"/>
<line x1="493.95" y1="179.45" x2="495.95" y2="179.45" stroke="#ff4141" stroke-width="0.5" opacity="0.55"/>
<rect x="493.35" y="181.45" width="3.20" height="46.75" fill="#ff4141" />
<line x1="499.80" y1="182.84" x2="499.80" y2="184.34" stroke="#2222ff" stroke-width="0.6" opacity="0.6"/>
<line x1="498.80" y1="182.84" x2="500.80" y2="182.84" stroke="#2222ff" stroke-width="0.5" opacity="0.55"/>
<rect x="498.20" y="184.34" width="3.20" height="43.86" fill="#2222ff" />
<line x1="512.65" y1="176.05" x2="512.65" y2="178.55" stroke="#a3a3a3" stroke-width="0.6" opacity="0.6"/>
<line x1="511.65" y1="176.05" x2="513.65" y2="176.05" stroke="#a3a3a3" stroke-width="0.5" opacity="0.55"/>
<rect x="511.05" y="178.55" width="3.20" height="49.65" fill="#a3a3a3" />
<line x1="517.50" y1="181.87" x2="517.50" y2="183.37" stroke="#ff993d" stroke-width="0.6" opacity="0.6"/>
<line x1="516.50" y1="181.87" x2="518.50" y2="181.87" stroke="#ff993d" stroke-width="0.5" opacity="0.55"/>
<rect x="515.90" y="183.37" width="3.20" height="44.83" fill="#ff993d" />
<line x1="522.35" y1="178.50" x2="522.35" y2="180.00" stroke="#ff4141" stroke-width="0.6" opacity="0.6"/>
<line x1="521.35" y1="178.50" x2="523.35" y2="178.50" stroke="#ff4141" stroke-width="0.5" opacity="0.55"/>
<rect x="520.75" y="180.00" width="3.20" height="48.20" fill="#ff4141" />
<line x1="527.20" y1="179.95" x2="527.20" y2="181.45" stroke="#2222ff" stroke-width="0.6" opacity="0.6"/>
<line x1="526.20" y1="179.95" x2="528.20" y2="179.95" stroke="#2222ff" stroke-width="0.5" opacity="0.55"/>
<rect x="525.60" y="181.45" width="3.20" height="46.75" fill="#2222ff" />
<line x1="422.00" y1="155.40" x2="422.00" y2="228.70" stroke="#4a4a4a" stroke-width="1.3" />
<line x1="418.80" y1="228.20" x2="529.00" y2="228.20" stroke="#000" stroke-width="1.0" />
<line x1="418.80" y1="228.20" x2="422.00" y2="228.20" stroke="#000" stroke-width="0.9" />
<text class="sa" font-size="8.4" text-anchor="end" stroke="#000" stroke-width="0.32" transform="translate(418.20,228.10) scale(1,1.06)" y="3.01">0</text>
<line x1="418.80" y1="204.10" x2="422.00" y2="204.10" stroke="#000" stroke-width="0.9" />
<text class="sa" font-size="8.4" text-anchor="end" stroke="#000" stroke-width="0.32" transform="translate(418.20,204.00) scale(1,1.06)" y="3.01">50</text>
<line x1="418.80" y1="180.00" x2="422.00" y2="180.00" stroke="#000" stroke-width="0.9" />
<text class="sa" font-size="8.4" text-anchor="end" stroke="#000" stroke-width="0.32" transform="translate(418.20,179.90) scale(1,1.06)" y="3.01">100</text>
<line x1="418.80" y1="155.90" x2="422.00" y2="155.90" stroke="#000" stroke-width="0.9" />
<text class="sa" font-size="8.4" text-anchor="end" stroke="#000" stroke-width="0.32" transform="translate(418.20,155.80) scale(1,1.06)" y="3.01">150</text>
<line x1="435.10" y1="228.20" x2="435.10" y2="231.50" stroke="#000" stroke-width="0.9" />
<line x1="462.70" y1="228.20" x2="462.70" y2="231.50" stroke="#000" stroke-width="0.9" />
<line x1="490.10" y1="228.20" x2="490.10" y2="231.50" stroke="#000" stroke-width="0.9" />
<line x1="517.50" y1="228.20" x2="517.50" y2="231.50" stroke="#000" stroke-width="0.9" />
<text class="se" font-size="10.3" text-anchor="middle" transform="translate(394.60,189.70) rotate(-90) scale(1.0,1)">Stance pressur(a.u.)</text>
<polyline points="440.10,169.00 440.10,164.40 444.60,164.40 444.60,181.00" fill="none" stroke="#000" stroke-width="1.0"/>
<text class="sa" x="442.50" y="163.80" font-size="10" text-anchor="middle" stroke="#000" stroke-width="0.5" stroke-linejoin="round">*</text>
<polyline points="434.50,181.00 434.50,177.50 440.00,177.50 440.00,181.00" fill="none" stroke="#000" stroke-width="1.0"/>
<text class="sa" x="437.50" y="177.20" font-size="10" text-anchor="middle" stroke="#000" stroke-width="0.5" stroke-linejoin="round">*</text>
<polyline points="462.10,151.60 462.10,144.10 472.40,144.10 472.40,151.60" fill="none" stroke="#000" stroke-width="1.0"/>
<text class="sa" x="467.30" y="143.80" font-size="10" text-anchor="middle" stroke="#000" stroke-width="0.5" stroke-linejoin="round">**</text>
<polyline points="468.10,166.00 468.10,162.70 473.00,162.70 473.00,174.40" fill="none" stroke="#000" stroke-width="1.0"/>
<text class="sa" x="470.40" y="162.40" font-size="10" text-anchor="middle" stroke="#000" stroke-width="0.5" stroke-linejoin="round">***</text>
<polyline points="462.50,179.00 462.50,175.70 467.60,175.70 467.60,179.00" fill="none" stroke="#000" stroke-width="1.0"/>
<text class="sa" x="465.00" y="175.40" font-size="10" text-anchor="middle" stroke="#000" stroke-width="0.5" stroke-linejoin="round">***</text>
<polyline points="494.10,163.00 494.10,160.50 499.40,160.50 499.40,176.40" fill="none" stroke="#000" stroke-width="1.0"/>
<text class="sa" x="496.80" y="160.20" font-size="10" text-anchor="middle" stroke="#000" stroke-width="0.5" stroke-linejoin="round">**</text>
<polyline points="490.10,176.40 490.10,172.50 495.00,172.50 495.00,176.40" fill="none" stroke="#000" stroke-width="1.0"/>
<text class="sa" x="492.30" y="172.60" font-size="10" text-anchor="middle" stroke="#000" stroke-width="0.5" stroke-linejoin="round">**</text>
<polyline points="517.50,148.40 517.50,142.10 527.40,142.10 527.40,148.40" fill="none" stroke="#000" stroke-width="1.0"/>
<text class="sa" x="522.20" y="141.20" font-size="10" text-anchor="middle" stroke="#000" stroke-width="0.5" stroke-linejoin="round">*</text>
<polyline points="522.10,161.00 522.10,158.70 528.40,158.70 528.40,177.00" fill="none" stroke="#000" stroke-width="1.0"/>
<text class="sa" x="525.50" y="158.40" font-size="10" text-anchor="middle" stroke="#000" stroke-width="0.5" stroke-linejoin="round">*</text>
<polyline points="518.10,175.00 518.10,170.70 522.40,170.70 522.40,175.00" fill="none" stroke="#000" stroke-width="1.0"/>
<text class="sa" x="519.80" y="170.40" font-size="10" text-anchor="middle" stroke="#000" stroke-width="0.5" stroke-linejoin="round">***</text>
<line x1="422.00" y1="236.10" x2="443.40" y2="236.10" stroke="#7c7c7c" stroke-width="1.25" />
<line x1="452.00" y1="236.10" x2="473.00" y2="236.10" stroke="#7c7c7c" stroke-width="1.25" />
<line x1="481.40" y1="236.10" x2="502.40" y2="236.10" stroke="#7c7c7c" stroke-width="1.25" />
<line x1="510.00" y1="236.10" x2="531.00" y2="236.10" stroke="#2a2a2a" stroke-width="1.25" />
<text class="se" x="435.80" y="247.60" font-size="10.4" text-anchor="middle" >1w</text>
<text class="se" x="464.70" y="247.60" font-size="10.4" text-anchor="middle" >2w</text>
<text class="se" x="493.50" y="247.60" font-size="10.4" text-anchor="middle" >4w</text>
<text class="se" x="522.00" y="247.60" font-size="10.4" text-anchor="middle" >6w</text>
</svg>
</body></html>
